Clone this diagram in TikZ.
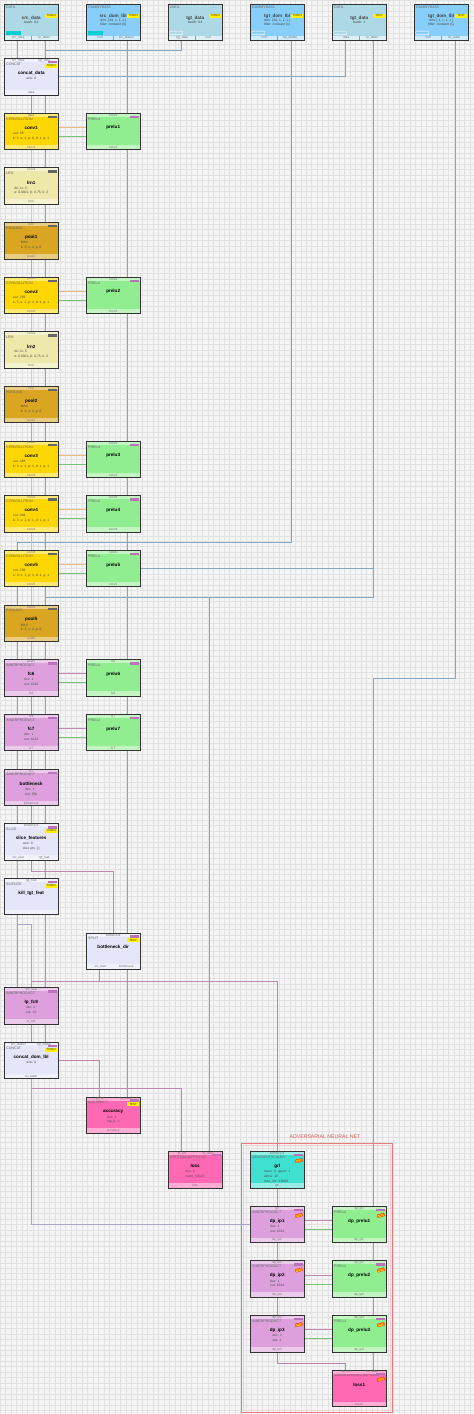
\documentclass[tikz,border=0pt]{standalone}
\usepackage{fontspec}
\setmainfont{Liberation Sans}
\usetikzlibrary{calc}
\pgfdeclarelayer{grid}
\pgfdeclarelayer{wires}
\pgfsetlayers{grid,wires,main}

\definecolor{bgc}{RGB}{245,245,245}
\definecolor{gridc}{RGB}{226,226,226}
\definecolor{datac}{RGB}{173,216,230}
\definecolor{dumc}{RGB}{135,206,250}
\definecolor{catc}{RGB}{230,230,250}
\definecolor{convc}{RGB}{255,215,0}
\definecolor{lrnc}{RGB}{238,232,170}
\definecolor{poolc}{RGB}{218,165,32}
\definecolor{preluc}{RGB}{144,238,144}
\definecolor{ipc}{RGB}{221,160,221}
\definecolor{lossc}{RGB}{255,105,180}
\definecolor{grlc}{RGB}{64,224,208}
\definecolor{annc}{RGB}{225,90,90}
\definecolor{eb}{RGB}{130,168,195}
\definecolor{et}{RGB}{232,190,120}
\definecolor{eg}{RGB}{120,195,120}
\definecolor{em}{RGB}{190,135,180}
\definecolor{es}{RGB}{165,165,205}
\definecolor{ep}{RGB}{210,172,95}
\definecolor{el}{RGB}{218,208,160}
\definecolor{et2}{RGB}{100,185,175}

\newcommand\two[2]{\makebox[26pt]{#1}\makebox[26pt]{#2}}
\newcommand\ports[1]{%
  \coordinate (#1-nl) at ([xshift=-14pt]#1.north);
  \coordinate (#1-nr) at ([xshift=14pt]#1.north);
  \coordinate (#1-sl) at ([xshift=-14pt]#1.south);
  \coordinate (#1-sr) at ([xshift=14pt]#1.south);}
% name, col, row, colour, type, title, params, bottoms, tops
\newcommand\lyr[9]{%
  \node[lyr,fill=#4] (#1) at ({4+82*#2},{4+54.65*#3}) {};
  \fill[band] (#1.north west) rectangle ([yshift=-3.5pt]#1.north east);
  \fill[band] (#1.south west) rectangle ([yshift=5pt]#1.south east);
  \draw[lyrln] (#1.north west) rectangle (#1.south east);
  \node[strip] (#1-b) at ([yshift=-1.9pt]#1.north) {#8};
  \node[strip] (#1-t) at ([yshift=2.6pt]#1.south) {#9};
  \node[ltype] (#1-k) at ([xshift=2pt,yshift=-5.6pt]#1.north west) {#5};
  \node[ltitle] (#1-n) at ([yshift=-14.5pt]#1.north) {#6};
  \node[lpar] (#1-p) at ([yshift=-18.5pt]#1.north) {#7};
  \ports{#1}}
% name, col, colour, type, title, params, tops, mark style
\newcommand\dat[8]{%
  \node[lyr,fill=#3] (#1) at ({4+82*#2},4) {};
  \fill[band,opacity=.6] (#1.south west) rectangle ([yshift=4.8pt]#1.south east);
  \draw[black!40,line width=.3pt] (#1.south) -- ([yshift=4.8pt]#1.south);
  \draw[lyrln] (#1.north west) rectangle (#1.south east);
  \node[ltype] (#1-k) at ([xshift=2pt,yshift=-3.3pt]#1.north west) {#4};
  \node[lblock] (#1-n) at ([yshift=-16pt]#1.north) {{\bfseries\fontsize{4.6}{5}\selectfont #5}\\#6};
  \node[strip] (#1-t) at ([yshift=2.5pt]#1.south) {#7};
  \node[#8] (#1-m) at ([xshift=1.5pt,yshift=5.6pt]#1.south west) {};
  \ports{#1}}
\newcommand\train[2]{\node[ytag] (#1-tr) at ([xshift=-1pt,yshift=-#2]#1.north east) {TRAIN};}
\newcommand\test[2]{\node[ytag] (#1-ts) at ([xshift=-1pt,yshift=-#2]#1.north east) {TEST};}
\newcommand\pbar[2]{\node[pbar,fill=#2] (#1-pb) at ([xshift=-1.5pt,yshift=-2.2pt]#1.north east) {};}
\newcommand\badge[1]{\node[badge] (#1-bd) at ([xshift=-5.5pt,yshift=-9pt]#1.north east) {Just};}

\begin{document}
\begin{tikzpicture}[x=1pt,y=-1pt,
  lyr/.style={minimum width=54pt,minimum height=36pt,inner sep=0pt,anchor=north west},
  lyrln/.style={draw=black!80,line width=1pt},
  band/.style={white,opacity=.45},
  strip/.style={inner sep=0pt,text=black!55,font=\fontsize{3.2}{3.4}\selectfont},
  ltype/.style={inner sep=0pt,anchor=west,text=black!60,font=\fontsize{3.6}{4}\selectfont},
  ltitle/.style={inner sep=0pt,font=\fontsize{4.6}{5}\selectfont\bfseries},
  lpar/.style={inner sep=0pt,anchor=north,align=left,text=black!70,font=\fontsize{3.3}{4.8}\selectfont},
  lblock/.style={inner sep=0pt,align=center,text=black!75,font=\fontsize{3.3}{4.3}\selectfont},
  mirc/.style={anchor=south west,fill={rgb,255:red,0;green,206;blue,209},minimum width=15pt,minimum height=3.5pt,inner sep=0pt},
  miro/.style={anchor=south west,draw=white,rounded corners=.8pt,line width=.4pt,minimum width=13pt,minimum height=3.5pt,inner sep=0pt},
  ytag/.style={anchor=north east,fill=yellow,inner sep=.5pt,minimum width=12pt,minimum height=4pt,text=black!80,font=\fontsize{3}{3}\selectfont},
  pbar/.style={anchor=north east,minimum width=9pt,minimum height=2.4pt,inner sep=0pt},
  badge/.style={fill=yellow,draw=red,line width=.3pt,rotate=15,inner sep=.4pt,text=red,font=\fontsize{3}{3}\selectfont\itshape\bfseries},
  wire/.style={line width=.8pt}]
\useasboundingbox (0,0) rectangle (474,1414);
\begin{pgfonlayer}{grid}
\fill[bgc] (0,0) rectangle (474,1414);
\draw[gridc,line width=.25pt,step=5.466pt] (0,0) grid (474,1414);
\end{pgfonlayer}

% input layers
\dat{src_data}{0}{datac}{DATA}{src\_data}{batch: 64}{\two{src\_data}{lp\_label}}{mirc}
\dat{src_dom_lbl}{1}{dumc}{DUMMYDATA}{src\_dom\_lbl}{dim: [ 64, 1, 1, 1 ]\\filler: constant (0)}{\two{null}{src\_dlabel}}{mirc}
\dat{tgt_data}{2}{datac}{DATA}{tgt\_data}{batch: 64}{\two{tgt\_data}{null}}{miro}
\dat{tgt_dom_lbl}{3}{dumc}{DUMMYDATA}{tgt\_dom\_lbl}{dim: [ 64, 1, 1, 1 ]\\filler: constant (1)}{\two{null}{tgt\_dlabel}}{miro}
\dat{tgtt_data}{4}{datac}{DATA}{tgt\_data}{batch: 1}{\two{data}{lp\_label}}{miro}
\dat{tgtt_dom_lbl}{5}{dumc}{DUMMYDATA}{tgt\_dom\_lbl}{dim: [ 1, 1, 1, 1 ]\\filler: constant (1)}{\two{null}{dc\_label}}{miro}
\train{src_data}{9.5pt}
\train{src_dom_lbl}{9.5pt}
\train{tgt_data}{9.5pt}
\train{tgt_dom_lbl}{9.5pt}
\test{tgtt_data}{9.5pt}
\test{tgtt_dom_lbl}{9.5pt}

% feature extractor
\lyr{concat_data}{0}{1}{catc}{CONCAT}{concat\_data}{axis: 0}{\two{src\_data}{tgt\_data}}{data}
\lyr{conv1}{0}{2}{convc}{CONVOLUTION}{conv1}{out: 96\\k: 5, s: 1, p: 0, d: 1, g: 1}{data}{conv1}
\lyr{prelu1}{1}{2}{preluc}{PRELU}{prelu1}{}{conv1}{conv1}
\lyr{lrn1}{0}{3}{lrnc}{LRN}{lrn1}{AC, ls: 5\\α: 0.0001, β: 0.75, k: 2}{conv1}{lrn1}
\lyr{pool1}{0}{4}{poolc}{POOLING}{pool1}{MAX\\k: 3, s: 2, p: 0}{lrn1}{pool1}
\lyr{conv2}{0}{5}{convc}{CONVOLUTION}{conv2}{out: 256\\k: 5, s: 1, p: 2, d: 1, g: 1}{pool1}{conv2}
\lyr{prelu2}{1}{5}{preluc}{PRELU}{prelu2}{}{conv2}{conv2}
\lyr{lrn2}{0}{6}{lrnc}{LRN}{lrn2}{AC, ls: 5\\α: 0.0001, β: 0.75, k: 2}{conv2}{lrn2}
\lyr{pool2}{0}{7}{poolc}{POOLING}{pool2}{MAX\\k: 3, s: 2, p: 0}{lrn2}{pool2}
\lyr{conv3}{0}{8}{convc}{CONVOLUTION}{conv3}{out: 384\\k: 3, s: 1, p: 1, d: 1, g: 1}{pool2}{conv3}
\lyr{prelu3}{1}{8}{preluc}{PRELU}{prelu3}{}{conv3}{conv3}
\lyr{conv4}{0}{9}{convc}{CONVOLUTION}{conv4}{out: 384\\k: 3, s: 1, p: 1, d: 1, g: 1}{conv3}{conv4}
\lyr{prelu4}{1}{9}{preluc}{PRELU}{prelu4}{}{conv4}{conv4}
\lyr{conv5}{0}{10}{convc}{CONVOLUTION}{conv5}{out: 256\\k: 3, s: 1, p: 1, d: 1, g: 1}{conv4}{conv5}
\lyr{prelu5}{1}{10}{preluc}{PRELU}{prelu5}{}{conv5}{conv5}
\lyr{pool5}{0}{11}{poolc}{POOLING}{pool5}{MAX\\k: 3, s: 2, p: 0}{conv5}{pool5}
\lyr{fc6}{0}{12}{ipc}{INNERPRODUCT}{fc6}{dec: 1\\out: 1024}{pool5}{fc6}
\lyr{prelu6}{1}{12}{preluc}{PRELU}{prelu6}{}{fc6}{fc6}
\lyr{fc7}{0}{13}{ipc}{INNERPRODUCT}{fc7}{dec: 1\\out: 1024}{fc6}{fc7}
\lyr{prelu7}{1}{13}{preluc}{PRELU}{prelu7}{}{fc7}{fc7}
\lyr{bottleneck}{0}{14}{ipc}{INNERPRODUCT}{bottleneck}{dec: 1\\out: 256}{fc7}{bottleneck}
\lyr{slice_features}{0}{15}{catc}{SLICE}{slice\_features}{axis: 0\\slice pts: [ ]}{bottleneck}{\two{src\_feat}{tgt\_feat}}
\lyr{kill_tgt_feat}{0}{16}{catc}{SILENCE}{kill\_tgt\_feat}{}{tgt\_feat}{}
\lyr{bottleneck_dir}{1}{17}{catc}{SPLIT}{bottleneck\_dir}{}{bottleneck}{\two{src\_feat}{bottleneck}}
\lyr{ip_fc8}{0}{18}{ipc}{INNERPRODUCT}{lp\_fc8}{dec: 1\\out: 10}{src\_feat}{lp\_fc8}
\lyr{concat_dom_lbl}{0}{19}{catc}{CONCAT}{concat\_dom\_lbl}{axis: 0}{\two{src\_dlabel}{tgt\_dlabel}}{dc\_label}
\lyr{accuracy}{1}{20}{lossc}{ACCURACY}{accuracy}{dec: 1\\top\_k: 1}{\two{lp\_fc8}{lp\_label}}{accuracy}
\lyr{loss}{2}{21}{lossc}{SOFTMAXWITHLOSS}{loss}{dec: 1\\norm: VALID}{\two{lp\_fc8}{lp\_label}}{loss}
\foreach \c in {conv1,lrn1,pool1,conv2,lrn2,pool2,conv3,conv4,conv5,pool5} {\pbar{\c}{black!60}}
\foreach \c in {prelu1,prelu2,prelu3,prelu4,prelu5,prelu6,prelu7,fc6,fc7,bottleneck,ip_fc8,concat_data,slice_features,kill_tgt_feat,bottleneck_dir,concat_dom_lbl,accuracy,loss} {\pbar{\c}{violet!55}}
\foreach \c in {concat_data,slice_features,kill_tgt_feat,concat_dom_lbl} {\train{\c}{5pt}}
\test{bottleneck_dir}{5pt}
\test{accuracy}{5pt}

% adversarial part
\lyr{grl}{3}{21}{grlc}{GRADIENTSCALER}{grl}{lower: 0, upper: 1\\alpha: 10\\max\_iter: 10000}{bottleneck}{grl}
\lyr{dp_ip1}{3}{22}{ipc}{INNERPRODUCT}{dp\_ip1}{dec: 1\\out: 1024}{grl}{dp\_ip1}
\lyr{dp_prelu1}{4}{22}{preluc}{PRELU}{dp\_prelu1}{}{dp\_ip1}{dp\_ip1}
\lyr{dp_ip2}{3}{23}{ipc}{INNERPRODUCT}{dp\_ip2}{dec: 1\\out: 1024}{dp\_ip1}{dp\_ip2}
\lyr{dp_prelu2}{4}{23}{preluc}{PRELU}{dp\_prelu2}{}{dp\_ip2}{dp\_ip2}
\lyr{dp_ip3}{3}{24}{ipc}{INNERPRODUCT}{dp\_ip3}{dec: 1\\out: 1}{dp\_ip2}{dp\_ip3}
\lyr{dp_prelu3}{4}{24}{preluc}{PRELU}{dp\_prelu3}{}{dp\_ip3}{dp\_ip3}
\lyr{loss1}{4}{25}{lossc}{{\fontsize{2.9}{3}\selectfont SIGMOIDCROSSENTROPYLOSS}}{loss1}{}{\two{dp\_ip3}{dc\_label}}{loss1}
\foreach \c in {grl,dp_ip1,dp_prelu1,dp_ip2,dp_prelu2,dp_ip3,dp_prelu3,loss1} {\pbar{\c}{violet!55}\badge{\c}}
\node[text=annc,inner sep=0pt,font=\fontsize{5.2}{6}\selectfont] (ann-lbl) at (325,1137) {ADVERSARIAL NEURAL NET};

\begin{pgfonlayer}{wires}
\draw[annc!80,line width=.6pt] (241,1143) rectangle (392,1412);
\draw[annc!30,line width=.6pt] (243,1145) rectangle (390,1410);
% data paths
\draw[wire,eb] (src_data-sl) -- (concat_data-nl);
\draw[wire,eb] (src_data-sr) -- (concat_dom_lbl-nr);
\draw[wire,eb] (tgt_data-sl) -- ++(0,10) -| (concat_data-nr);
\draw[wire,eb] (src_dom_lbl-sr) -- (accuracy-nr);
\draw[wire,eb] (tgt_dom_lbl-sr) |- ([yshift=-10pt]conv4-sl) -- (ip_fc8-nl);
\draw[wire,eb] (tgtt_data-sl) |- (concat_data.east);
\coordinate (lpj) at ([yshift=-10pt]conv5.south);
\draw[wire,eb] (tgtt_data-sr) |- (conv5-sr |- lpj) -- (conv5-sr);
\draw[wire,eb] (loss-nr) -- (loss-nr |- lpj);
\draw[wire,eb] (prelu5.east) -- (prelu5.east -| tgtt_data-sr);
\draw[wire,eb] (tgtt_dom_lbl-sr) |- (prelu6.east -| loss1-nr) -- (loss1-nr);
\draw[wire,eb] (concat_data.south) -- (conv1.north);
% main chain
\draw[wire,et] (conv1.south) -- (lrn1.north);
\draw[wire,el] (lrn1.south) -- (pool1.north);
\draw[wire,ep] (pool1.south) -- (conv2.north);
\draw[wire,et] (conv2.south) -- (lrn2.north);
\draw[wire,el] (lrn2.south) -- (pool2.north);
\draw[wire,ep] (pool2.south) -- (conv3.north);
\draw[wire,et] (conv3.south) -- (conv4.north);
\draw[wire,et] (conv4.south) -- (conv5.north);
\draw[wire,et] (conv5.south) -- (pool5.north);
\draw[wire,ep] (pool5.south) -- (fc6.north);
\draw[wire,em] (fc6.south) -- (fc7.north);
\draw[wire,em] (fc7.south) -- (bottleneck.north);
% in-place activations
\foreach \a/\b/\c in {conv1/prelu1/et,conv2/prelu2/et,conv3/prelu3/et,conv4/prelu4/et,conv5/prelu5/et,fc6/prelu6/em,fc7/prelu7/em,dp_ip1/dp_prelu1/em,dp_ip2/dp_prelu2/em,dp_ip3/dp_prelu3/em} {
  \draw[wire,\c] ([yshift=-14pt]\a.north east) -- ([yshift=-14pt]\b.north west);
  \draw[wire,eg] ([yshift=-23pt]\a.north east) -- ([yshift=-23pt]\b.north west);
}
% features
\draw[wire,em] (bottleneck.south) |- ([yshift=-11pt]slice_features.south) -| (bottleneck_dir.north);
\draw[wire,es] (slice_features-sl) |- ([yshift=-10pt]kill_tgt_feat.south) -- (ip_fc8.north);
\coordinate (bdj) at ([yshift=-12pt]bottleneck_dir-sl);
\draw[wire,em] (bottleneck_dir-sl) -- (bdj);
\draw[wire,em] (ip_fc8.north) |- (bdj) -| (grl.north);
\draw[wire,em] (ip_fc8.south) |- (concat_dom_lbl.center) -| (accuracy-nl);
\draw[wire,em] (ip_fc8.south) |- ([yshift=-10pt]concat_dom_lbl.south) -| (loss-nl);
\draw[wire,es] (concat_dom_lbl.south) |- (dp_ip1.west);
% domain classifier
\draw[wire,et2] (grl.south) -- (dp_ip1.north);
\draw[wire,em] (dp_ip1.south) -- (dp_ip2.north);
\draw[wire,em] (dp_ip2.south) -- (dp_ip3.north);
\draw[wire,em] (dp_ip3.south) -- ++(0,11) -| (loss1-nl);
\end{pgfonlayer}
\end{tikzpicture}
\end{document}
